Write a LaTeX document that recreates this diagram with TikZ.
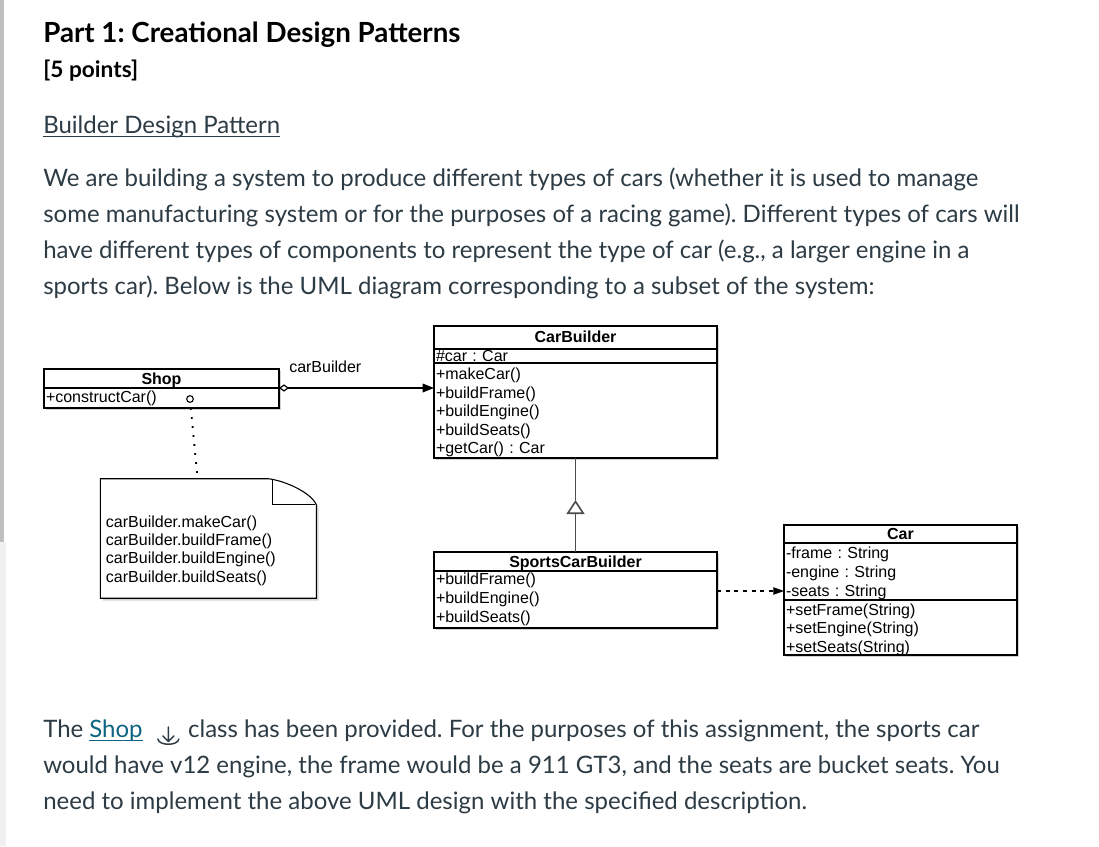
\documentclass[tikz,border=0pt]{standalone}
\usepackage{fontspec}
\setmainfont{Lato}
\newfontfamily\umlfont{Liberation Sans}
\usetikzlibrary{arrows.meta,positioning,calc,shadows}
\frenchspacing
\definecolor{bodycol}{HTML}{2D3B45}
\definecolor{linkcol}{HTML}{0E6483}
\colorlet{barcol}{black!25}
\colorlet{stripcol}{black!6}
\colorlet{umlcol}{black}
\colorlet{gencol}{black!70}
\tikzset{
  heading/.style={anchor=base west, inner sep=0pt, text=black, font=\bfseries\fontsize{20.8}{24}\selectfont},
  subheading/.style={anchor=base west, inner sep=0pt, text=black, font=\bfseries\fontsize{17}{20}\selectfont},
  bodyline/.style={anchor=base west, inner sep=0pt, text=bodycol, font=\fontsize{18}{22}\selectfont},
  umltext/.style={inner sep=0pt, font=\umlfont\fontsize{12}{14.25}\selectfont},
  boxshadow/.style={drop shadow={shadow xshift=1.8pt, shadow yshift=-1.8pt, opacity=0.35}},
  classbox/.style={draw=umlcol, fill=white, line width=0.8pt, outer sep=0pt, inner xsep=1.5pt, inner ysep=0pt,
    font=\umlfont\fontsize{12}{14.25}\selectfont, align=left, boxshadow},
  classname/.style={classbox, font=\umlfont\bfseries\fontsize{12}{14.25}\selectfont, align=center},
  shopw/.style={text width=173.25pt},
  builderw/.style={text width=209.25pt},
  carw/.style={text width=171.75pt},
  assoc/.style={umlcol, line width=0.9pt,
    {Diamond[open, length=7.5pt, width=5.5pt, fill=white]}-{Triangle[length=8.5pt, width=6.5pt]}},
  genline/.style={gencol, line width=1.2pt},
  depline/.style={umlcol, line width=0.9pt, dash pattern=on 3pt off 3.5pt, -{Triangle[length=8pt, width=5.5pt]}},
  notelink/.style={umlcol, line width=1.4pt, dash pattern=on 1.3pt off 5.5pt},
}

\begin{document}
\begin{tikzpicture}[x=0.75pt, y=-0.75pt, >=Stealth]

  % Page and left bar.
  \fill[white] (0,0) rectangle (1099,846);
  \useasboundingbox (0,0) rectangle (1099,846);
  \fill[stripcol] (0,542) rectangle (6,846);
  \fill[barcol] (0,0) rectangle (4,542);

  % Headings.
  \node[heading] (title) at (43,42) {Part 1: Creational Design Patterns};
  \node[subheading] (points) at (43,77) {[5 points]};
  \node[bodyline] (pattern) at (43,133) {Builder Design Pattern};
  \draw[bodycol, line width=1.1pt] ($(pattern.base west)+(0,3.5)$) -- ($(pattern.base east)+(0,3.5)$);

  % Intro paragraph.
  \node[bodyline] (intro1) at (43,186) {We are building a system to produce different types of cars (whether it is used to manage};
  \node[bodyline] (intro2) at (43,222) {some manufacturing system or for the purposes of a racing game). Different types of cars will};
  \node[bodyline] (intro3) at (43,258) {have different types of components to represent the type of car (e.g., a larger engine in a};
  \node[bodyline] (intro4) at (43,294) {sports car). Below is the UML diagram corresponding to a subset of the system:};

  % Note attached to constructCar().
  \node[minimum width=161.5pt, minimum height=89.25pt, inner sep=0pt] (note) at (208.35,538.5) {};
  \filldraw[umlcol, fill=white, line width=0.8pt, boxshadow] (note.north west)
    -- ($(note.north east)+(-48,0)$)
    .. controls ($(note.north east)+(-31,2)$) and ($(note.north east)+(-5,14)$) .. ($(note.north east)+(0,26)$)
    -- (note.south east) -- (note.south west) -- cycle;
  \draw[umlcol, line width=0.8pt] ($(note.north east)+(-43.5,0)$) |- ($(note.north east)+(-1,25.5)$);
  \node[umltext, align=left, anchor=north west, font=\umlfont\fontsize{12}{13.75}\selectfont] (notelines)
    at ($(note.north west)+(5.3,36.5)$)
    {carBuilder.makeCar()\\carBuilder.buildFrame()\\carBuilder.buildEngine()\\carBuilder.buildSeats()};

  % Classes (text height = top to first baseline, text depth = the rest).
  \node[classname, shopw, text height=11.25pt, text depth=3pt] (shop) at (161.5,378.5) {Shop};
  \node[classbox, shopw, text height=10.5pt, text depth=4.5pt, below=0pt of shop] (shopops) {+constructCar()};

  \node[classname, builderw, text height=12pt, text depth=5.25pt] (cb) at (575.5,337.5) {CarBuilder};
  \node[classbox, builderw, text height=9pt, text depth=1.5pt, below=0pt of cb] (cbattr) {\#car : Car};
  \node[classbox, builderw, text height=12.4pt, text depth=58.85pt, below=0pt of cbattr,
    font=\umlfont\fontsize{12}{13.9}\selectfont] (cbops)
    {+makeCar()\\+buildFrame()\\+buildEngine()\\+buildSeats()\\+getCar() : Car};

  \node[classname, builderw, text height=11.6pt, text depth=2.65pt] (scb) at (575.5,561.5) {SportsCarBuilder};
  \node[classbox, builderw, text height=10.1pt, text depth=32.65pt, below=0pt of scb] (scbops)
    {+buildFrame()\\+buildEngine()\\+buildSeats()};

  \node[classname, carw, text height=10.5pt, text depth=3pt] (car) at (900.5,534) {Car};
  \node[classbox, carw, text height=11.6pt, text depth=31.15pt, below=0pt of car,
    font=\umlfont\fontsize{12}{14.2}\selectfont] (carattr)
    {-frame : String\\-engine : String\\-seats : String};
  \node[classbox, carw, text height=11.5pt, text depth=29.75pt, below=0pt of carattr,
    font=\umlfont\fontsize{12}{13.75}\selectfont] (carops)
    {+setFrame(String)\\+setEngine(String)\\+setSeats(String)};

  % Connectors.
  \draw[notelink] (190,399) -- ($(note.north west)!0.45!(note.north east)$);
  \node[draw=umlcol, circle, fill=white, line width=0.8pt, minimum size=5pt, inner sep=0pt] (shopnote) at (190,399) {};
  \draw[assoc] (shop.south east) -- (shop.south east -| cbops.west);
  \node[umltext, anchor=west] (role) at (289,366.7) {carBuilder};
  \coordinate (gentip) at (575.5,500);
  \draw[genline, -{Triangle[open, length=10.5pt, width=13.5pt, fill=white]}] (scb.north) -- (gentip);
  \draw[genline] (gentip) -- (cbops.south);
  \draw[depline] ($(scbops.east)+(0,-8.5)$) coordinate (dep) -- (dep -| carattr.west);

  % Closing paragraph.
  \node[bodyline] (outro1a) at (43,737) {The};
  \node[bodyline, text=linkcol] (shoplink) at ($(outro1a.base east)+(5.5,0)$) {Shop};
  \draw[linkcol, line width=1.1pt] ($(shoplink.base west)+(0,3.5)$) -- ($(shoplink.base east)+(0,3.5)$);
  \coordinate (dl) at ($(shoplink.base east)+(25.5,0)$);
  \draw[bodycol, line width=1.1pt, line cap=round, line join=round]
    ($(dl)+(0,-10)$) -- ($(dl)+(0,4.5)$)
    ($(dl)+(-5.5,-1)$) -- ($(dl)+(0,4.5)$) -- ($(dl)+(5.5,-1)$)
    ($(dl)+(-10.5,2)$) .. controls ($(dl)+(-9.5,9)$) and ($(dl)+(9.5,9)$) .. ($(dl)+(10.5,2)$);
  \node[bodyline] (outro1b) at ($(shoplink.base east)+(45,0)$) {class has been provided. For the purposes of this assignment, the sports car};
  \node[bodyline] (outro2) at (43,773) {would have v12 engine, the frame would be a 911 GT3, and the seats are bucket seats. You};
  \node[bodyline] (outro3) at (43,809) {need to implement the above UML design with the specified description.};

\end{tikzpicture}
\end{document}
